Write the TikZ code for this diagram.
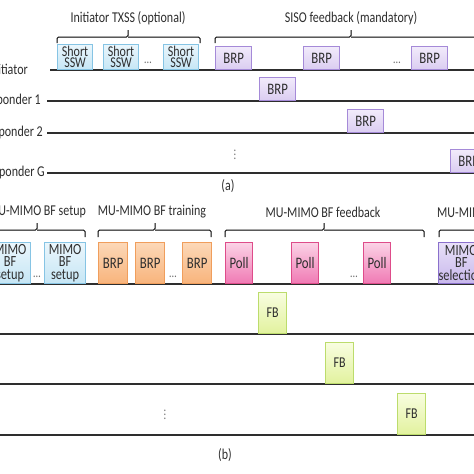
\documentclass[tikz,border=0pt]{standalone}
\usepackage{fontspec}
\setmainfont[FakeStretch=0.8]{Carlito}
\usepackage{xcolor}
\usetikzlibrary{positioning}
\definecolor{lineink}{HTML}{2E2E2E}
\definecolor{sswedge}{HTML}{86C4E4}
\definecolor{sswtop}{HTML}{EAF6FC}
\definecolor{sswbot}{HTML}{C6E6F5}
\definecolor{brpedge}{HTML}{A58AD8}
\definecolor{brptop}{HTML}{F2EBFB}
\definecolor{brpbot}{HTML}{DACDF1}
\definecolor{oredge}{HTML}{F09E5C}
\definecolor{ortop}{HTML}{FCD8B8}
\definecolor{orbot}{HTML}{F8B47C}
\definecolor{polledge}{HTML}{DE4C8A}
\definecolor{polltop}{HTML}{FBD3E6}
\definecolor{pollbot}{HTML}{F07AB4}
\definecolor{fbedge}{HTML}{BCDC6C}
\definecolor{fbtop}{HTML}{F8FDE0}
\definecolor{fbbot}{HTML}{E2F29E}
\definecolor{seledge}{HTML}{8A70CC}
\definecolor{seltop}{HTML}{E8E0F8}
\definecolor{selbot}{HTML}{C8B8EC}
\tikzset{
  timeline/.style={lineink,line width=1.4pt},
  bracket/.style={black,line width=1pt,rounded corners=1.5pt},
  frame/.style={rectangle,anchor=south west,inner sep=0pt,align=center,
    line width=1.2pt,text=lineink,font=\fontsize{16}{12.5}\selectfont},
  sswbox/.style={frame,draw=sswedge,top color=sswtop,bottom color=sswbot,
    minimum width=35pt,minimum height=25pt,font=\fontsize{15}{11.5}\selectfont},
  brpbox/.style={frame,draw=brpedge,top color=brptop,bottom color=brpbot,
    minimum width=36pt,minimum height=23pt},
  setupbox/.style={frame,draw=sswedge,top color=sswtop,bottom color=sswbot,
    minimum width=41pt,minimum height=41pt,font=\fontsize{15.5}{12.5}\selectfont},
  trainbox/.style={frame,draw=oredge,top color=ortop,bottom color=orbot,
    minimum width=29pt,minimum height=41pt},
  pollbox/.style={frame,draw=polledge,top color=polltop,bottom color=pollbot,
    minimum width=27pt,minimum height=41pt},
  fbbox/.style={frame,draw=fbedge,top color=fbtop,bottom color=fbbot,
    minimum width=28pt,minimum height=41pt,font=\fontsize{15}{12}\selectfont},
  selbox/.style={frame,draw=seledge,top color=seltop,bottom color=selbot,
    minimum width=42pt,minimum height=41pt,font=\fontsize{15.5}{12.5}\selectfont},
  station/.style={anchor=east,inner sep=0pt,text=lineink,font=\fontsize{15}{15}\selectfont},
  phase/.style={inner sep=0pt,text=lineink,font=\fontsize{15}{15}\selectfont},
  gap/.style={inner sep=0pt,font=\fontsize{13}{13}\selectfont,lineink!70}
}

\begin{document}
\begin{tikzpicture}[x=1pt,y=-1pt]
\useasboundingbox (0,0) rectangle (474,474);
\clip (0,0) rectangle (474,474);
\fill[white] (0,0) rectangle (474,474);
% (a) SISO phase
\node[station] (init) at (28,69) {Initiator};
\node[station] (resp1) at (41,100) {Responder 1};
\node[station] (resp2) at (43,132) {Responder 2};
\node[station] (respG) at (45,172) {Responder G};
\coordinate (initend) at (480,70);
\draw[timeline] (50,70) -- (initend);
\draw[timeline] (47,101) -- (480,101);
\draw[timeline] (47,133) -- (480,133);
\draw[timeline] (47,173) -- (480,173);
\node[sswbox] (ssw1) at (57,70) {Short\\SSW};
\node[sswbox] (ssw2) at (103,70) {Short\\SSW};
\node[sswbox] (ssw3) at (163,70) {Short\\SSW};
\node[gap] at (148,63) {\dots};
\node[brpbox] (brpi1) at (215,70) {BRP};
\node[brpbox] (brpi2) at (303,70) {BRP};
\node[brpbox] (brpi3) at (411,70) {BRP};
\node[gap] at (397,63) {\dots};
\node[brpbox] (brpr1) at (259,101) {BRP};
\node[brpbox] (brpr2) at (347,133) {BRP};
\node[brpbox] (brprG) at (450,173) {BRP};
\node[gap] at (235,152) {$\vdots$};
\draw[bracket] (57,43) -- (57,37) -- (128,37) -- (128,30) (128,37) -- (200,37) -- (200,43);
\draw[bracket] (215,43) -- (215,37) -- (351,37) -- (351,30) (351,37) -- (490,37) -- (490,43);
\node[phase] (txss) at (128,18) {Initiator TXSS (optional)};
\node[phase] (siso) at (351,18) {SISO feedback (mandatory)};
\node[phase] (capa) at (228,186) {(a)};
% (b) MU-MIMO phase
\draw[timeline] (0,284) -- (480,284);
\draw[timeline] (0,334) -- (480,334);
\draw[timeline] (0,384) -- (480,384);
\draw[timeline] (0,435) -- (480,435);
\node[setupbox] (set1) at (-11,284) {MIMO\\BF\\setup};
\node[setupbox] (set2) at (44,284) {MIMO\\BF\\setup};
\node[gap] at (37,277) {\dots};
\node[trainbox] (trn1) at (98,284) {BRP};
\node[trainbox] (trn2) at (135,284) {BRP};
\node[trainbox] (trn3) at (182,284) {BRP};
\node[gap] at (173,277) {\dots};
\node[pollbox] (poll1) at (225,284) {Poll};
\node[pollbox] (poll2) at (291,284) {Poll};
\node[pollbox] (poll3) at (363,284) {Poll};
\node[gap] at (354,277) {\dots};
\node[selbox] (sel) at (438,284) {MIMO\\BF\\selection};
\node[fbbox] (fb1) at (258,334) {FB};
\node[fbbox] (fb2) at (325,384) {FB};
\node[fbbox] (fb3) at (397,435) {FB};
\node[gap] at (165,412) {$\vdots$};
\draw[bracket] (-40,237) -- (-40,230) -- (37,230) -- (37,223) (37,230) -- (85,230) -- (85,237);
\draw[bracket] (98,237) -- (98,230) -- (155,230) -- (155,223) (155,230) -- (211,230) -- (211,237);
\draw[bracket] (225,237) -- (225,230) -- (324,230) -- (324,223) (324,230) -- (424,230) -- (424,237);
\draw[bracket] (439,237) -- (439,230) -- (500,230) -- (500,223) (500,230) -- (560,230);
\node[phase] (setup) at (37,212) {MU-MIMO BF setup};
\node[phase] (train) at (152,212) {MU-MIMO BF training};
\node[phase] (feed) at (323,212) {MU-MIMO BF feedback};
\node[phase,anchor=west] (select) at (437,212) {MU-MIMO BF selection};
\node[phase] (capb) at (225,455) {(b)};
\end{tikzpicture}
\end{document}
